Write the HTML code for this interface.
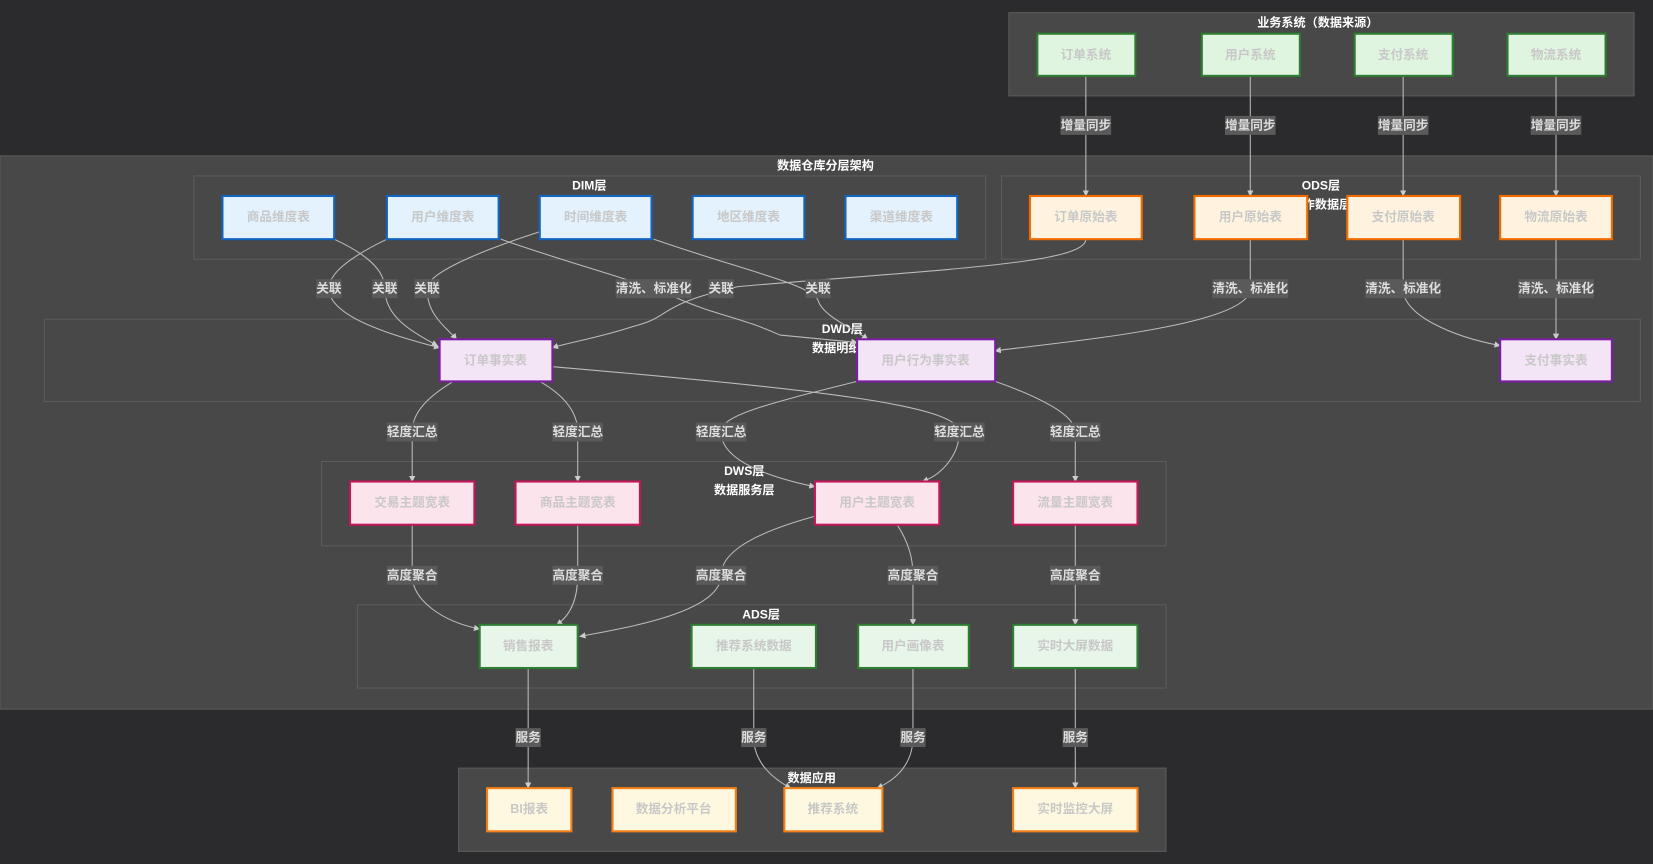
<!DOCTYPE html>
<html><head><meta charset="utf-8"><style>
html,body{margin:0;padding:0;background:#2b2b2d;}
svg{display:block;}
text{font-family:"Liberation Sans","Noto Sans CJK SC",sans-serif;}
.ct{fill:#fff;font-size:11.5px;font-weight:bold;text-anchor:middle;}
.nt{fill:#c8c8c8;font-size:12px;font-weight:bold;text-anchor:middle;dominant-baseline:central;}
.lt{fill:#ddd;font-size:12px;font-weight:bold;text-anchor:middle;dominant-baseline:central;}
.cl{fill:#474847;stroke:#5c5c5c;stroke-width:1;}
.e{fill:none;stroke:#bbb;stroke-width:1;marker-end:url(#a);}
.lb{fill:#5a5a5a;}
</style></head><body>
<svg width="1653" height="864" viewBox="0 0 1568 820" preserveAspectRatio="none">
<defs><marker id="a" viewBox="0 0 10 10" refX="9" refY="5" markerWidth="6" markerHeight="6" orient="auto"><path d="M0,0L10,5L0,10z" fill="#ccc"/></marker></defs>
<rect width="1568" height="820" fill="#2b2b2d"/>
<!-- clusters -->
<rect class="cl" x="0" y="148" width="1568" height="525"/>
<text class="ct" x="783" y="161">数据仓库分层架构</text>
<rect class="cl" x="957" y="12" width="593" height="79"/>
<text class="ct" x="1250" y="25">业务系统（数据来源）</text>
<rect class="cl" x="184" y="167" width="751" height="79"/>
<text class="ct" x="559" y="180">DIM层</text>
<rect class="cl" x="950" y="167" width="606" height="79"/>
<text class="ct" x="1253" y="180">ODS层</text>
<text class="ct" x="1253" y="198">操作数据层</text>
<rect class="cl" x="42" y="303" width="1514" height="78"/>
<text class="ct" x="799" y="316">DWD层</text>
<text class="ct" x="799" y="334">数据明细层</text>
<rect class="cl" x="305" y="438" width="801" height="80"/>
<text class="ct" x="706" y="451">DWS层</text>
<text class="ct" x="706" y="469">数据服务层</text>
<rect class="cl" x="339" y="574" width="767" height="79"/>
<text class="ct" x="722" y="587">ADS层</text>
<rect class="cl" x="435" y="729" width="671" height="79"/>
<text class="ct" x="770" y="742">数据应用</text>

<!-- edges -->
<g>
<path class="e" d="M1030,72V186"/><path class="e" d="M1186,72V186"/><path class="e" d="M1331,72V186"/><path class="e" d="M1476,72V186"/>
<path class="e" d="M317,227C345,240 365,255 365,274C365,300 390,315 415,328"/>
<path class="e" d="M367,227C330,245 312,260 312,274C312,300 370,318 417,330"/>
<path class="e" d="M512,220C450,240 405,260 405,274C405,300 425,312 433,322"/>
<path class="e" d="M475,227C540,250 600,265 640,282C680,300 700,300 740,318L813,325"/>
<path class="e" d="M620,227C700,255 770,270 776,285C780,300 810,312 823,322"/>
<path class="e" d="M1030,227C1030,250 900,255 700,272C620,290 640,300 600,310C570,320 540,325 524,330"/>
<path class="e" d="M1186,227V274C1186,310 1000,325 944,333"/>
<path class="e" d="M1331,227V274C1331,300 1380,320 1423,328"/>
<path class="e" d="M1476,227V322"/>
<path class="e" d="M430,362C400,380 391,395 391,410V457"/>
<path class="e" d="M512,362C540,378 548,395 548,410V457"/>
<path class="e" d="M813,362C720,385 684,395 684,410C684,440 740,455 773,462"/>
<path class="e" d="M524,348C780,370 910,385 910,410C910,430 895,450 875,457"/>
<path class="e" d="M944,362C990,378 1020,395 1020,410V457"/>
<path class="e" d="M391,498V546C391,570 420,590 455,597"/>
<path class="e" d="M548,498V546C548,570 540,585 528,593"/>
<path class="e" d="M773,490C700,510 684,530 684,546C684,580 600,595 550,604"/>
<path class="e" d="M851,498C862,515 866,530 866,546V593"/>
<path class="e" d="M1020,498V593"/>
<path class="e" d="M501,634V748"/>
<path class="e" d="M715,634V700C715,725 735,740 750,748"/>
<path class="e" d="M866,634V700C866,725 850,740 832,748"/>
<path class="e" d="M1020,634V748"/>
</g>

<!-- edge labels -->
<g>
<rect class="lb" x="1006" y="110" width="48" height="18"/><text class="lt" x="1030" y="119">增量同步</text>
<rect class="lb" x="1162" y="110" width="48" height="18"/><text class="lt" x="1186" y="119">增量同步</text>
<rect class="lb" x="1307" y="110" width="48" height="18"/><text class="lt" x="1331" y="119">增量同步</text>
<rect class="lb" x="1452" y="110" width="48" height="18"/><text class="lt" x="1476" y="119">增量同步</text>
<rect class="lb" x="300" y="265" width="24" height="18"/><text class="lt" x="312" y="274">关联</text>
<rect class="lb" x="353" y="265" width="24" height="18"/><text class="lt" x="365" y="274">关联</text>
<rect class="lb" x="393" y="265" width="24" height="18"/><text class="lt" x="405" y="274">关联</text>
<rect class="lb" x="584" y="265" width="72" height="18"/><text class="lt" x="620" y="274">清洗、标准化</text>
<rect class="lb" x="672" y="265" width="24" height="18"/><text class="lt" x="684" y="274">关联</text>
<rect class="lb" x="764" y="265" width="24" height="18"/><text class="lt" x="776" y="274">关联</text>
<rect class="lb" x="1150" y="265" width="72" height="18"/><text class="lt" x="1186" y="274">清洗、标准化</text>
<rect class="lb" x="1295" y="265" width="72" height="18"/><text class="lt" x="1331" y="274">清洗、标准化</text>
<rect class="lb" x="1440" y="265" width="72" height="18"/><text class="lt" x="1476" y="274">清洗、标准化</text>
<rect class="lb" x="367" y="401" width="48" height="18"/><text class="lt" x="391" y="410">轻度汇总</text>
<rect class="lb" x="524" y="401" width="48" height="18"/><text class="lt" x="548" y="410">轻度汇总</text>
<rect class="lb" x="660" y="401" width="48" height="18"/><text class="lt" x="684" y="410">轻度汇总</text>
<rect class="lb" x="886" y="401" width="48" height="18"/><text class="lt" x="910" y="410">轻度汇总</text>
<rect class="lb" x="996" y="401" width="48" height="18"/><text class="lt" x="1020" y="410">轻度汇总</text>
<rect class="lb" x="367" y="537" width="48" height="18"/><text class="lt" x="391" y="546">高度聚合</text>
<rect class="lb" x="524" y="537" width="48" height="18"/><text class="lt" x="548" y="546">高度聚合</text>
<rect class="lb" x="660" y="537" width="48" height="18"/><text class="lt" x="684" y="546">高度聚合</text>
<rect class="lb" x="842" y="537" width="48" height="18"/><text class="lt" x="866" y="546">高度聚合</text>
<rect class="lb" x="996" y="537" width="48" height="18"/><text class="lt" x="1020" y="546">高度聚合</text>
<rect class="lb" x="489" y="691" width="24" height="18"/><text class="lt" x="501" y="700">服务</text>
<rect class="lb" x="703" y="691" width="24" height="18"/><text class="lt" x="715" y="700">服务</text>
<rect class="lb" x="854" y="691" width="24" height="18"/><text class="lt" x="866" y="700">服务</text>
<rect class="lb" x="1008" y="691" width="24" height="18"/><text class="lt" x="1020" y="700">服务</text>
</g>

<!-- nodes -->
<g stroke-width="2">
<g fill="#e0f5e0" stroke="#2e7d32">
<rect x="984" y="32" width="93" height="40"/><rect x="1140" y="32" width="93" height="40"/><rect x="1285" y="32" width="93" height="40"/><rect x="1430" y="32" width="93" height="40"/>
</g>
<g fill="#e3f2fd" stroke="#1565c0">
<rect x="211" y="186" width="106" height="41"/><rect x="367" y="186" width="106" height="41"/><rect x="512" y="186" width="106" height="41"/><rect x="657" y="186" width="106" height="41"/><rect x="802" y="186" width="106" height="41"/>
</g>
<g fill="#fff3e0" stroke="#ef6c00">
<rect x="977" y="186" width="106" height="41"/><rect x="1133" y="186" width="107" height="41"/><rect x="1278" y="186" width="107" height="41"/><rect x="1423" y="186" width="106" height="41"/>
</g>
<g fill="#f3e5f5" stroke="#7b1fa2">
<rect x="417" y="322" width="107" height="40"/><rect x="813" y="322" width="131" height="40"/><rect x="1423" y="322" width="106" height="40"/>
</g>
<g fill="#fce4ec" stroke="#c2185b">
<rect x="332" y="457" width="118" height="41"/><rect x="489" y="457" width="118" height="41"/><rect x="773" y="457" width="118" height="41"/><rect x="961" y="457" width="118" height="41"/>
</g>
<g fill="#e8f5e9" stroke="#2e7d32">
<rect x="455" y="593" width="93" height="41"/><rect x="656" y="593" width="118" height="41"/><rect x="814" y="593" width="105" height="41"/><rect x="961" y="593" width="118" height="41"/>
</g>
<g fill="#fff8e1" stroke="#f57f17">
<rect x="462" y="748" width="80" height="41"/><rect x="581" y="748" width="117" height="41"/><rect x="744" y="748" width="93" height="41"/><rect x="961" y="748" width="118" height="41"/>
</g>
</g>
<g>
<text class="nt" x="1030" y="52">订单系统</text><text class="nt" x="1186" y="52">用户系统</text><text class="nt" x="1331" y="52">支付系统</text><text class="nt" x="1476" y="52">物流系统</text>
<text class="nt" x="264" y="206">商品维度表</text><text class="nt" x="420" y="206">用户维度表</text><text class="nt" x="565" y="206">时间维度表</text><text class="nt" x="710" y="206">地区维度表</text><text class="nt" x="855" y="206">渠道维度表</text>
<text class="nt" x="1030" y="206">订单原始表</text><text class="nt" x="1186" y="206">用户原始表</text><text class="nt" x="1331" y="206">支付原始表</text><text class="nt" x="1476" y="206">物流原始表</text>
<text class="nt" x="470" y="342">订单事实表</text><text class="nt" x="878" y="342">用户行为事实表</text><text class="nt" x="1476" y="342">支付事实表</text>
<text class="nt" x="391" y="477">交易主题宽表</text><text class="nt" x="548" y="477">商品主题宽表</text><text class="nt" x="832" y="477">用户主题宽表</text><text class="nt" x="1020" y="477">流量主题宽表</text>
<text class="nt" x="501" y="613">销售报表</text><text class="nt" x="715" y="613">推荐系统数据</text><text class="nt" x="866" y="613">用户画像表</text><text class="nt" x="1020" y="613">实时大屏数据</text>
<text class="nt" x="502" y="768">BI报表</text><text class="nt" x="639" y="768">数据分析平台</text><text class="nt" x="790" y="768">推荐系统</text><text class="nt" x="1020" y="768">实时监控大屏</text>
</g>
</svg>
</body></html>
